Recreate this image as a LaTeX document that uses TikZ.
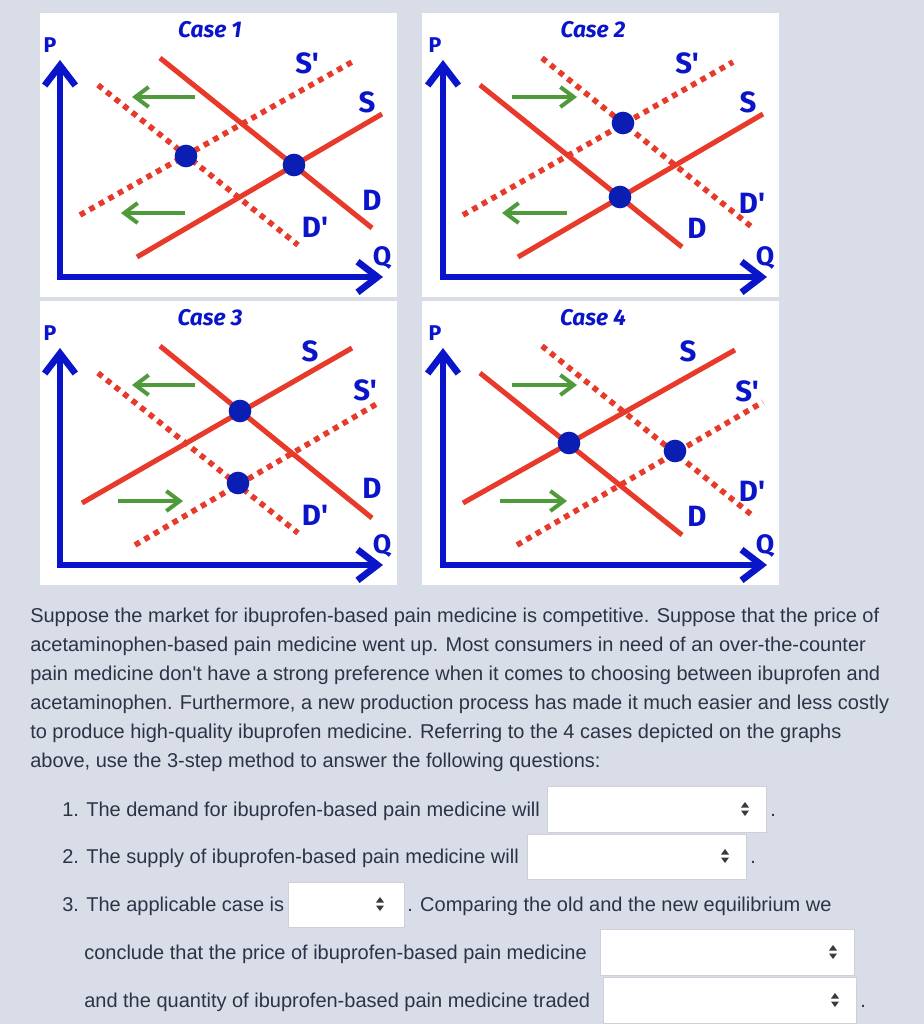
\documentclass[tikz,border=0pt]{standalone}
\usepackage{fontspec}
\setmainfont{Liberation Sans}
\newfontfamily\chartfont{Fira Sans}
\usepackage{xcolor}
\usepackage{tikz}
\usetikzlibrary{arrows.meta, positioning}

\definecolor{pagebg}{HTML}{D9DDE7}
\definecolor{axisblue}{HTML}{0A14C8}
\definecolor{dotblue}{HTML}{0A1EB4}
\definecolor{curvered}{HTML}{E83A2B}
\definecolor{shiftgreen}{HTML}{4F9A3B}
\definecolor{bodytext}{HTML}{2B3447}
\definecolor{boxline}{HTML}{CDD0D6}
\definecolor{caret}{HTML}{3A3A3A}

\begin{document}
\begin{tikzpicture}[
    x=0.75pt, y=-0.75pt,
    panel/.style={fill=white},
    axisline/.style={draw=axisblue, line width=5pt, {Straight Barb[length=15pt,width=23pt]}-{Straight Barb[length=15pt,width=23pt]}},
    oldcurve/.style={draw=curvered, line width=3.8pt},
    newcurve/.style={draw=curvered, line width=4.2pt, dash pattern=on 4.2pt off 4pt},
    eqdot/.style={circle, fill=dotblue, minimum size=17pt, inner sep=0pt},
    shiftarrow/.style={draw=shiftgreen, line width=3pt, -{Straight Barb[length=10pt,width=15pt]}},
    curvelab/.style={text=axisblue, inner sep=0pt, font=\chartfont\bfseries\fontsize{22}{22}\selectfont},
    caselab/.style={text=axisblue, inner sep=0pt, font=\chartfont\bfseries\itshape\fontsize{17}{17}\selectfont},
    axislab/.style={text=axisblue, inner sep=0pt, font=\chartfont\bfseries\fontsize{16}{16}\selectfont},
    qlab/.style={text=axisblue, inner sep=0pt, font=\chartfont\bfseries\fontsize{20}{20}\selectfont},
    bodyline/.style={anchor=base west, inner sep=0pt, text=bodytext, font=\fontsize{15}{18}\selectfont},
    selectbox/.style={fill=white, draw=boxline, line width=0.75pt}
]
\useasboundingbox (0,0) rectangle (924,1024);
\fill[pagebg] (0,0) rectangle (924,1024);

% Graph panels
\fill[panel] (40,13) rectangle (397,297);
\fill[panel] (422,13) rectangle (779,297);
\fill[panel] (40,301) rectangle (397,585);
\fill[panel] (422,301) rectangle (779,585);

% Case 1: both curves shift left
\draw[newcurve] (80,215) -- (352,62);
\draw[newcurve] (98,85) -- (298,245);
\draw[oldcurve] (160,58) -- (372,228);
\draw[oldcurve] (137,257) -- (382,114);
\node[eqdot] (eq1old) at (294,165) {};
\node[eqdot] (eq1new) at (186,156) {};
\draw[shiftarrow] (195,97) -- (132,97);
\draw[shiftarrow] (185,213) -- (121,213);
\draw[axisline] (60,60) -- (60,277) -- (383,277);
\node[caselab] (case1) at (210,30) {Case 1};
\node[axislab] (p1) at (50,45) {P};
\node[qlab] (q1) at (382,258) {Q};
\node[curvelab] (s1new) at (307,63) {S'};
\node[curvelab] (s1) at (367,102) {S};
\node[curvelab] (d1) at (372,200) {D};
\node[curvelab] (d1new) at (315,227) {D'};

% Case 2: demand right, supply left
\draw[newcurve] (463,215) -- (733,62);
\draw[newcurve] (542,58) -- (753,228);
\draw[oldcurve] (480,85) -- (682,247);
\draw[oldcurve] (518,257) -- (763,114);
\node[eqdot] (eq2old) at (620,197) {};
\node[eqdot] (eq2new) at (623,123) {};
\draw[shiftarrow] (512,97) -- (577,97);
\draw[shiftarrow] (567,213) -- (502,213);
\draw[axisline] (443,60) -- (443,277) -- (767,277);
\node[caselab] (case2) at (593,30) {Case 2};
\node[axislab] (p2) at (435,45) {P};
\node[qlab] (q2) at (765,258) {Q};
\node[curvelab] (s2new) at (687,63) {S'};
\node[curvelab] (s2) at (748,102) {S};
\node[curvelab] (d2new) at (752,203) {D'};
\node[curvelab] (d2) at (697,228) {D};

% Case 3: demand left, supply right
\draw[newcurve] (135,545) -- (380,402);
\draw[newcurve] (98,373) -- (298,533);
\draw[oldcurve] (160,346) -- (372,518);
\draw[oldcurve] (82,503) -- (352,348);
\node[eqdot] (eq3old) at (240,411) {};
\node[eqdot] (eq3new) at (238,483) {};
\draw[shiftarrow] (195,385) -- (132,385);
\draw[shiftarrow] (118,501) -- (183,501);
\draw[axisline] (60,348) -- (60,565) -- (383,565);
\node[caselab] (case3) at (210,318) {Case 3};
\node[axislab] (p3) at (50,333) {P};
\node[qlab] (q3) at (382,546) {Q};
\node[curvelab] (s3) at (310,351) {S};
\node[curvelab] (s3new) at (365,390) {S'};
\node[curvelab] (d3) at (372,488) {D};
\node[curvelab] (d3new) at (315,515) {D'};

% Case 4: both curves shift right
\draw[newcurve] (517,545) -- (763,402);
\draw[newcurve] (542,346) -- (753,516);
\draw[oldcurve] (480,373) -- (682,535);
\draw[oldcurve] (463,503) -- (735,350);
\node[eqdot] (eq4old) at (569,443) {};
\node[eqdot] (eq4new) at (675,451) {};
\draw[shiftarrow] (512,385) -- (577,385);
\draw[shiftarrow] (500,501) -- (567,501);
\draw[axisline] (443,348) -- (443,565) -- (767,565);
\node[caselab] (case4) at (593,318) {Case 4};
\node[axislab] (p4) at (435,333) {P};
\node[qlab] (q4) at (765,546) {Q};
\node[curvelab] (s4) at (688,351) {S};
\node[curvelab] (s4new) at (747,391) {S'};
\node[curvelab] (d4new) at (752,491) {D'};
\node[curvelab] (d4) at (697,516) {D};

% Question text
\node[bodyline] (par1) at (30,622) {Suppose the market for ibuprofen-based pain medicine is competitive. Suppose that the price of};
\node[bodyline] (par2) at (30,651) {acetaminophen-based pain medicine went up. Most consumers in need of an over-the-counter};
\node[bodyline] (par3) at (30,680) {pain medicine don\textquotesingle t have a strong preference when it comes to choosing between ibuprofen and};
\node[bodyline] (par4) at (30,709) {acetaminophen. Furthermore, a new production process has made it much easier and less costly};
\node[bodyline] (par5) at (30,738) {to produce high-quality ibuprofen medicine. Referring to the 4 cases depicted on the graphs};
\node[bodyline] (par6) at (30,767) {above, use the 3-step method to answer the following questions:};

% Answer lines with drop-down boxes
\draw[selectbox] (547,786) rectangle (766,832);
\draw[selectbox] (527,834) rectangle (746,879);
\draw[selectbox] (288,882) rectangle (404,927);
\draw[selectbox] (600,929) rectangle (854,975);
\draw[selectbox] (603,977) rectangle (856,1023);
\foreach \cx/\cy in {745/809, 725/856, 380/904, 833/952, 835/1000} {
    \fill[caret] (\cx-4,\cy-1.5) -- (\cx+4,\cy-1.5) -- (\cx,\cy-7) -- cycle;
    \fill[caret] (\cx-4,\cy+1.5) -- (\cx+4,\cy+1.5) -- (\cx,\cy+7) -- cycle;
}
\node[bodyline] (q1text) at (62,816) {1. The demand for ibuprofen-based pain medicine will};
\node[bodyline] (q1end) at (770,816) {.};
\node[bodyline] (q2text) at (62,863) {2. The supply of ibuprofen-based pain medicine will};
\node[bodyline] (q2end) at (750,863) {.};
\node[bodyline] (q3text) at (62,911) {3. The applicable case is};
\node[bodyline] (q3rest) at (407,911) {. Comparing the old and the new equilibrium we};
\node[bodyline] (q4text) at (84,959) {conclude that the price of ibuprofen-based pain medicine};
\node[bodyline] (q5text) at (84,1007) {and the quantity of ibuprofen-based pain medicine traded};
\node[bodyline] (q5end) at (860,1007) {.};

\end{tikzpicture}
\end{document}
